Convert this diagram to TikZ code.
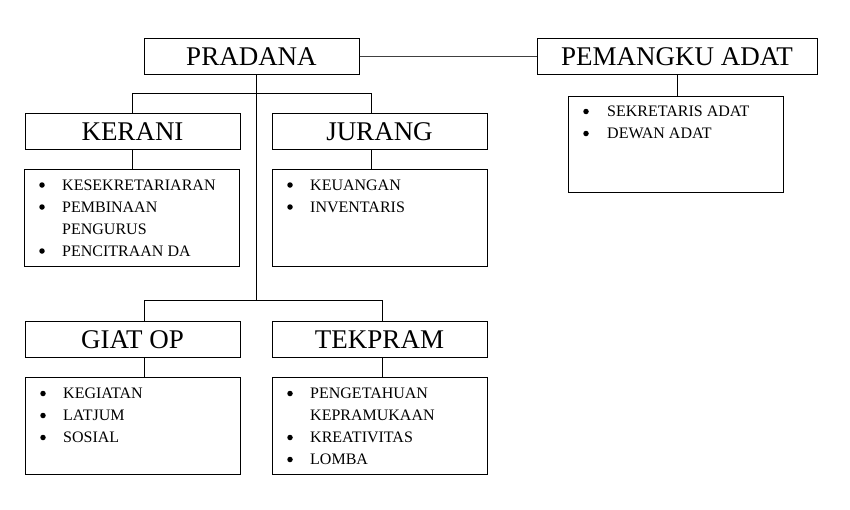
\documentclass[tikz,border=0pt]{standalone}
\usepackage{fontspec}
\setmainfont{Liberation Serif}
\begin{document}
\begin{tikzpicture}[x=1pt,y=-1pt,
  head/.style={draw, line width=1pt, minimum width=215pt, minimum height=36pt, inner sep=0pt,
    font=\fontsize{27}{27}\selectfont, text height=18pt, text depth=0pt},
  listbox/.style={draw, line width=1pt, minimum width=215pt, minimum height=97pt, inner sep=0pt},
  item/.style={anchor=base west, inner sep=0pt, font=\fontsize{16}{16}\selectfont},
  bul/.style={circle, fill, inner sep=0pt, minimum size=5.5pt, yshift=5pt},
  conn/.style={line width=1pt}]
\useasboundingbox (0,0) rectangle (850,509);
% header boxes
\node[head] (pradana) at (251.5,56) {PRADANA};
\node[head, minimum width=280pt] (pemangku) at (677,56) {PEMANGKU ADAT};
\node[head] (kerani) at (132.5,131) {KERANI};
\node[head] (jurang) at (379.5,131) {JURANG};
\node[head] (giat) at (132.5,339) {GIAT OP};
\node[head] (tekpram) at (379.5,339) {TEKPRAM};
% list boxes
\node[listbox, minimum height=96pt] (pemsub) at (675.5,144) {};
\node[listbox] (keranisub) at (131.5,217.5) {};
\node[listbox] (jurangsub) at (379.5,217.5) {};
\node[listbox] (giatsub) at (132.5,425.5) {};
\node[listbox] (tekpramsub) at (379.5,425.5) {};
% connector anchor points
\coordinate (pr) at ([xshift=4.5pt]pradana.south);
\coordinate (ju) at ([xshift=-8.5pt]jurang.north);
\coordinate (gi) at ([xshift=11.5pt]giat.north);
\coordinate (te) at ([xshift=2.5pt]tekpram.north);
\coordinate (bb) at ([yshift=20pt]gi);
% connectors
\draw[conn, black!75] (pradana.east) -- (pradana.east -| pemangku.west);
\draw[conn] (pemangku.south) -- (pemangku.south |- pemsub.north);
\draw[conn] (kerani.north) -- ++(0,-19) -| (ju);
\draw[conn] (pr) -- (pr |- bb);
\draw[conn] (gi) -- (bb) -| (te);
\draw[conn] (kerani.south) -- (kerani.south |- keranisub.north);
\draw[conn] (ju |- jurang.south) -- (ju |- jurangsub.north);
\draw[conn] (gi |- giat.south) -- (gi |- giatsub.north);
\draw[conn] (te |- tekpram.south) -- (te |- tekpramsub.north);
% PEMANGKU ADAT list
\node[bul] (pb1) at (586,116.5) {};
\node[item] (pt1) at (607,116.5) {SEKRETARIS ADAT};
\node[bul] (pb2) at (586,138.5) {};
\node[item] (pt2) at (607,138.5) {DEWAN ADAT};
% KERANI list
\node[bul] (kb1) at (42,190) {};
\node[item] (kt1) at (62,190) {KESEKRETARIARAN};
\node[bul] (kb2) at (42,212) {};
\node[item] (kt2) at (62,212) {PEMBINAAN};
\node[item] (kt3) at (62,234) {PENGURUS};
\node[bul] (kb4) at (42,256) {};
\node[item] (kt4) at (62,256) {PENCITRAAN DA};
% JURANG list
\node[bul] (jb1) at (290,190) {};
\node[item] (jt1) at (310,190) {KEUANGAN};
\node[bul] (jb2) at (290,212) {};
\node[item] (jt2) at (310,212) {INVENTARIS};
% GIAT OP list
\node[bul] (gb1) at (43,398.5) {};
\node[item] (gt1) at (63,398.5) {KEGIATAN};
\node[bul] (gb2) at (43,420.5) {};
\node[item] (gt2) at (63,420.5) {LATJUM};
\node[bul] (gb3) at (43,442.5) {};
\node[item] (gt3) at (63,442.5) {SOSIAL};
% TEKPRAM list
\node[bul] (tb1) at (290,398.5) {};
\node[item] (tt1) at (310,398.5) {PENGETAHUAN};
\node[item] (tt2) at (310,420.5) {KEPRAMUKAAN};
\node[bul] (tb3) at (290,442.5) {};
\node[item] (tt3) at (310,442.5) {KREATIVITAS};
\node[bul] (tb4) at (290,464.5) {};
\node[item] (tt4) at (310,464.5) {LOMBA};
\end{tikzpicture}
\end{document}
